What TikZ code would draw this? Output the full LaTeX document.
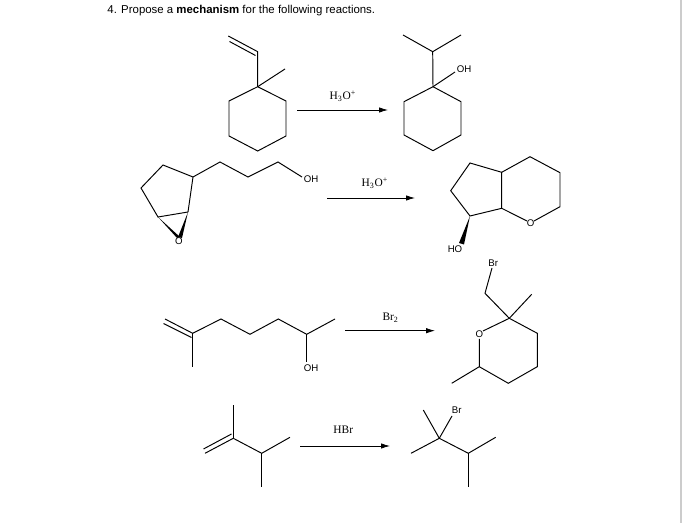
\documentclass[tikz,border=0pt]{standalone}
\usepackage{fontspec}
\setmainfont{Liberation Serif}
\newfontfamily\lab{Liberation Sans}
\begin{document}
\begin{tikzpicture}[x=0.02cm,y=-0.02cm,line width=0.55pt,
  arr/.style={-{Latex[length=5pt,width=3pt]},line width=0.45pt},
  atom/.style={font=\lab\fontsize{5.5}{6}\selectfont,inner sep=0.5pt},
  reag/.style={font=\fontsize{6.5}{7}\selectfont,inner sep=0pt}]
\usetikzlibrary{arrows.meta}
\useasboundingbox[fill=white] (0,0) rectangle (700,523);
\draw[gray!40,line width=0.6pt] (681,0) -- (681,523);
\node[anchor=west,font=\lab\fontsize{6.5}{8}\selectfont,inner sep=0pt] (title) at (107,11) {4. Propose a \textbf{mechanism} for the following reactions.};
% mol 1
\draw (257.7,86.7)--(286,101)--(286,136)--(257.7,151)--(229,136)--(229,101)--cycle;
\draw (257.7,86.7)--(285,69);
\draw (257.7,86.7)--(257.7,51.7)--(228.3,36);
\draw (255.5,55.5)--(229.5,41.5);
\draw[arr] (297,110)--(388,110);
\node[reag] (r1) at (343,96) {H\textsubscript{3}O\textsuperscript{+}};
% mol 2
\draw (433,86.7)--(461,101.7)--(461,135)--(433,150.7)--(404,135)--(404,101.7)--cycle;
\draw (433,86.7)--(432.7,51.7)--(403,35);
\draw (432.7,51.7)--(461,35);
\draw (433,86.7)--(455,72);
\node[atom] (oh1) at (464,69) {OH};
% mol 3
\draw (193,177)--(163,165)--(141,188)--(158,217)--(188,212)--cycle;
\fill (158,217)--(177,238)--(180,237)--cycle;
\fill (188,212)--(178,237)--(182,238)--cycle;
\node[atom] (o3) at (179,241) {O};
\draw (193,177)--(220,162)--(248,177)--(278,162)--(302,177);
\node[atom] (oh3) at (311,179) {OH};
\draw[arr] (327,198)--(415,198);
\node[reag] (r2) at (375,183) {H\textsubscript{3}O\textsuperscript{+}};
% mol 4
\draw (501.7,172.3)--(470,163)--(450.7,190.7)--(470,216)--(501.7,208.3)--cycle;
\draw (501.7,172.3)--(530,156.7)--(560,172.7)--(560,206.7)--(534,221);
\draw (501.7,208.3)--(527,221);
\node[atom] (o4) at (530.7,223.3) {O};
\fill (470,216)--(459,243)--(464,244.5)--cycle;
\node[atom] (ho4) at (455,249) {HO};
% mol 5
\draw (192.7,333.3)--(165,319);
\draw (191.5,337.5)--(163.5,323.5);
\draw (192.7,333.3)--(192.7,367);
\draw (192.7,333.3)--(221,319)--(250,334.3)--(278.3,319)--(306.7,334.3)--(335,319);
\draw (306.7,334.3)--(306.7,362);
\node[atom] (oh5) at (311,368) {OH};
\draw[arr] (345,330.7)--(435,330.7);
\node[reag] (r3) at (390.7,318) {Br\textsubscript{2}};
% mol 6
\draw (509.3,318.3)--(531.7,294.3);
\draw (509.3,318.3)--(485,293.3)--(492,268);
\node[atom] (br6) at (493.3,262.7) {Br};
\draw (509.3,318.3)--(483,331);
\node[atom] (o6) at (479.3,334.3) {O};
\draw (479.3,339)--(479.3,366.7)--(451.7,383.3);
\draw (479.3,366.7)--(508.3,383.3)--(537.3,366.7)--(537.3,333.3)--(509.3,318.3);
% mol 7
\draw (233.3,438.3)--(233.3,405);
\draw (233.3,438.3)--(205,453.3);
\draw (231.5,434)--(203.5,449);
\draw (233.3,438.3)--(261.7,453.3)--(290,437.3);
\draw (261.7,453.3)--(261.7,486.7);
\draw[arr] (300,446)--(390,446);
\node[reag] (r4) at (343.3,430) {HBr};
% mol 8
\draw (439.3,438.3)--(423.3,410);
\draw (439.3,438.3)--(452,416);
\node[atom] (br8) at (456.7,410) {Br};
\draw (439.3,438.3)--(411,453.3);
\draw (439.3,438.3)--(468.3,453.3)--(495.7,437.3);
\draw (468.3,453.3)--(468.3,486.7);
\end{tikzpicture}
\end{document}
